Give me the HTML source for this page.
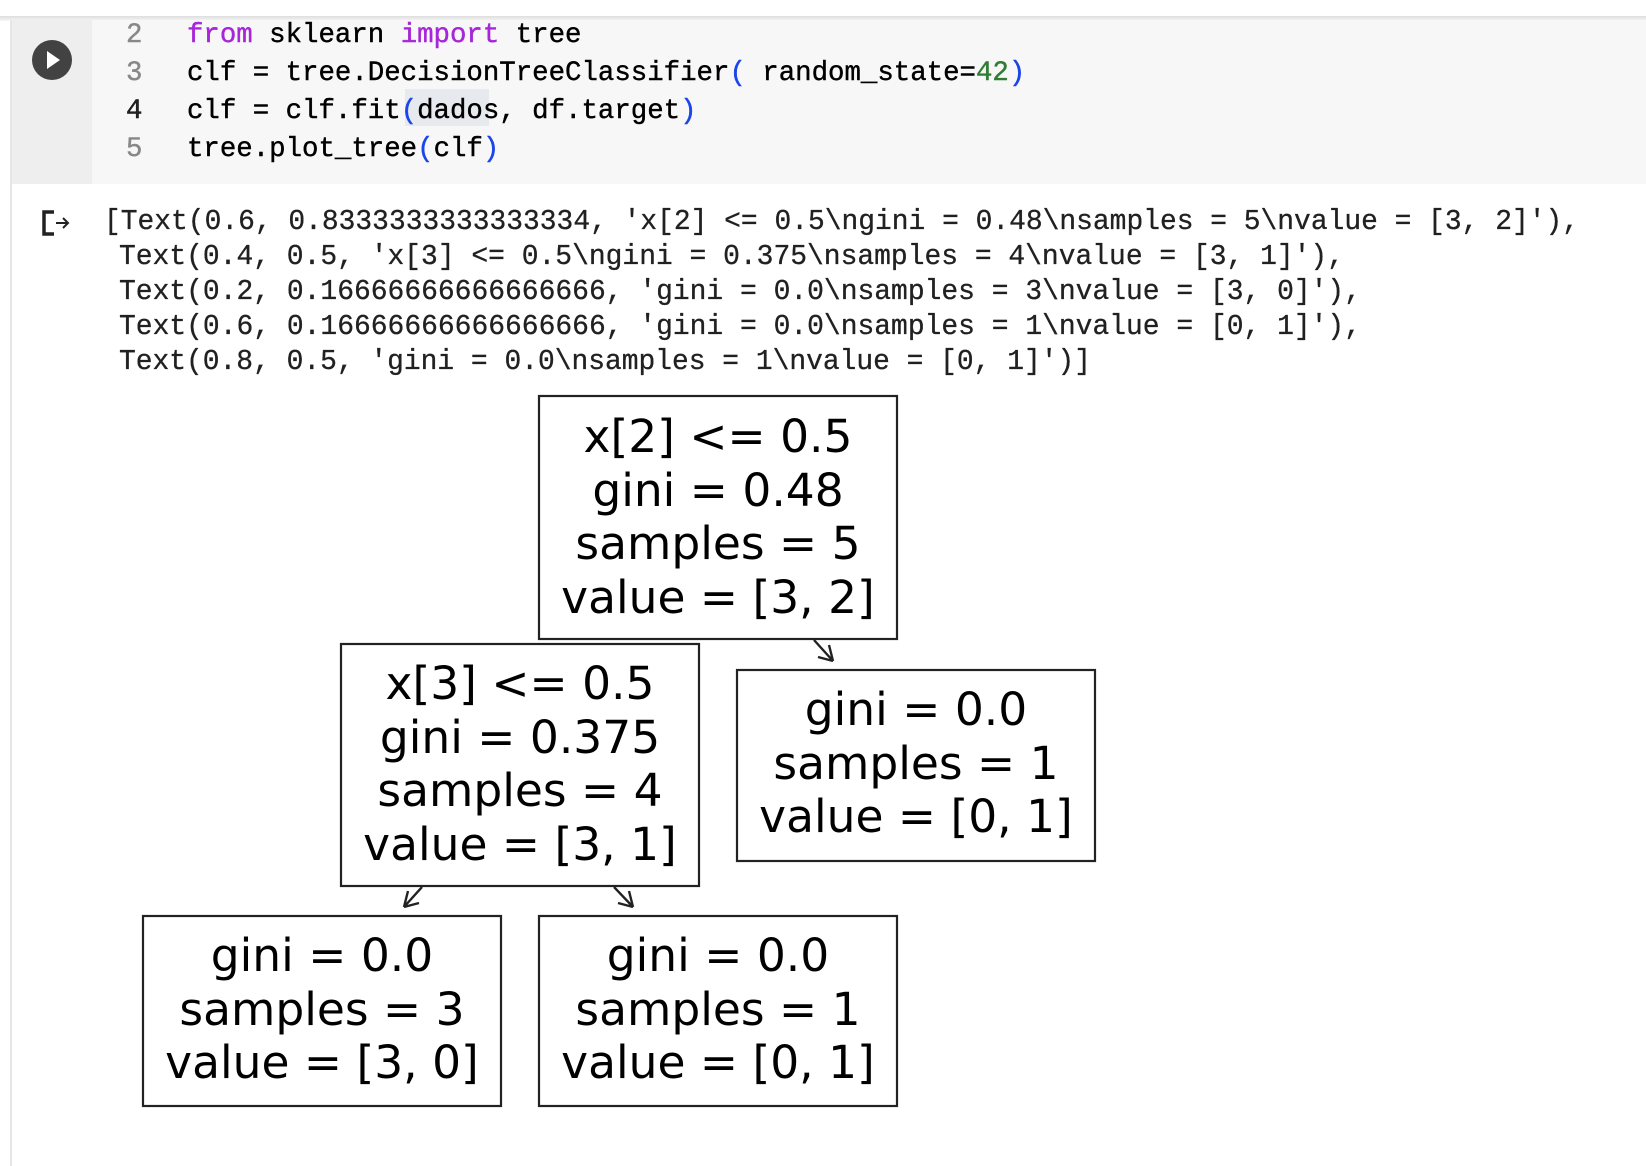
<!DOCTYPE html>
<html><head><meta charset="utf-8"><style>
html,body{margin:0;padding:0;background:#fff;width:1646px;height:1166px;overflow:hidden}
svg{display:block}
.c{font-family:"Liberation Mono",monospace;font-size:27.4px;fill:#000;stroke:#000;stroke-width:0.4}
.o{font-family:"Liberation Mono",monospace;font-size:28.5px;fill:#212121;stroke:#212121;stroke-width:0.3}
.t{font-family:"DejaVu Sans",sans-serif;font-size:45.5px;fill:#000;text-anchor:middle}
</style></head><body>
<svg width="1646" height="1166" viewBox="0 0 1646 1166">
<defs><linearGradient id="sh" x1="0" y1="0" x2="0" y2="1"><stop offset="0" stop-color="#ddd"/><stop offset="1" stop-color="#f7f7f7"/></linearGradient></defs>
<rect x="0" y="0" width="1646" height="18" fill="#fff"/>
<rect x="0" y="16" width="1646" height="5" fill="url(#sh)"/>
<rect x="12" y="20" width="1634" height="164" fill="#f7f7f7"/>
<rect x="12" y="20" width="80" height="164" fill="#eeeeee"/>
<rect x="10" y="20" width="2" height="1146" fill="#e6e6e6"/>
<circle cx="52" cy="60" r="20" fill="#424242"/>
<polygon points="47,51 47,69 60,60" fill="#fff"/>
<g class="c">
<text x="126" y="42" fill="#888" stroke="#888">2</text>
<text x="126" y="80" fill="#888" stroke="#888">3</text>
<text x="126" y="118" fill="#222">4</text>
<text x="126" y="156" fill="#888" stroke="#888">5</text>
<rect x="405" y="89" width="84" height="37" fill="#e6eaee" stroke="none"/>
<text x="187" y="42"><tspan fill="#a626d8" stroke="#a626d8">from</tspan> sklearn <tspan fill="#a626d8" stroke="#a626d8">import</tspan> tree</text>
<text x="187" y="80">clf = tree.DecisionTreeClassifier<tspan fill="#1a45e8" stroke="#1a45e8">(</tspan> random_state=<tspan fill="#2e7d32" stroke="#2e7d32">42</tspan><tspan fill="#1a45e8" stroke="#1a45e8">)</tspan></text>
<text x="187" y="118">clf = clf.fit<tspan fill="#1a45e8" stroke="#1a45e8">(</tspan>dados, df.target<tspan fill="#1a45e8" stroke="#1a45e8">)</tspan></text>
<text x="187" y="156">tree.plot_tree<tspan fill="#1a45e8" stroke="#1a45e8">(</tspan>clf<tspan fill="#1a45e8" stroke="#1a45e8">)</tspan></text>
</g>
<path d="M54,212 H44 V234 H54" stroke="#222" stroke-width="3.5" fill="none"/>
<path d="M56,223 H68 M63,218 L68,223 L63,228" stroke="#222" stroke-width="2" fill="none"/>
<g class="o">
<text x="104" y="229" textLength="1475" lengthAdjust="spacingAndGlyphs">[Text(0.6, 0.8333333333333334, 'x[2] &lt;= 0.5\ngini = 0.48\nsamples = 5\nvalue = [3, 2]'),</text>
<text x="119" y="264" textLength="1225" lengthAdjust="spacingAndGlyphs">Text(0.4, 0.5, 'x[3] &lt;= 0.5\ngini = 0.375\nsamples = 4\nvalue = [3, 1]'),</text>
<text x="119" y="299" textLength="1242" lengthAdjust="spacingAndGlyphs">Text(0.2, 0.16666666666666666, 'gini = 0.0\nsamples = 3\nvalue = [3, 0]'),</text>
<text x="119" y="334" textLength="1242" lengthAdjust="spacingAndGlyphs">Text(0.6, 0.16666666666666666, 'gini = 0.0\nsamples = 1\nvalue = [0, 1]'),</text>
<text x="119" y="369" textLength="972" lengthAdjust="spacingAndGlyphs">Text(0.8, 0.5, 'gini = 0.0\nsamples = 1\nvalue = [0, 1]')]</text>
</g>
<g fill="#fff" stroke="#222" stroke-width="2.2">
<rect x="539" y="396" width="358" height="243"/>
<rect x="341" y="644" width="358" height="242"/>
<rect x="737" y="670" width="358" height="191"/>
<rect x="143" y="916" width="358" height="190"/>
<rect x="539" y="916" width="358" height="190"/>
</g>
<g stroke="#222" stroke-width="2.4" fill="none">
<path d="M814,640 L833,661 M833,661 L818,657 M833,661 L829,645"/>
<path d="M422,887 L404,907 M404,907 L419,903 M404,907 L408,891"/>
<path d="M614,887 L633,907 M633,907 L618,903 M633,907 L629,891"/>
</g>
<g class="t">
<text x="718" y="452">x[2] &lt;= 0.5</text>
<text x="718" y="506">gini = 0.48</text>
<text x="718" y="559">samples = 5</text>
<text x="718" y="613">value = [3, 2]</text>
<text x="520" y="699">x[3] &lt;= 0.5</text>
<text x="520" y="753">gini = 0.375</text>
<text x="520" y="806">samples = 4</text>
<text x="520" y="860">value = [3, 1]</text>
<text x="916" y="725">gini = 0.0</text>
<text x="916" y="779">samples = 1</text>
<text x="916" y="832">value = [0, 1]</text>
<text x="322" y="971">gini = 0.0</text>
<text x="322" y="1025">samples = 3</text>
<text x="322" y="1078">value = [3, 0]</text>
<text x="718" y="971">gini = 0.0</text>
<text x="718" y="1025">samples = 1</text>
<text x="718" y="1078">value = [0, 1]</text>
</g>
</svg>
</body></html>
